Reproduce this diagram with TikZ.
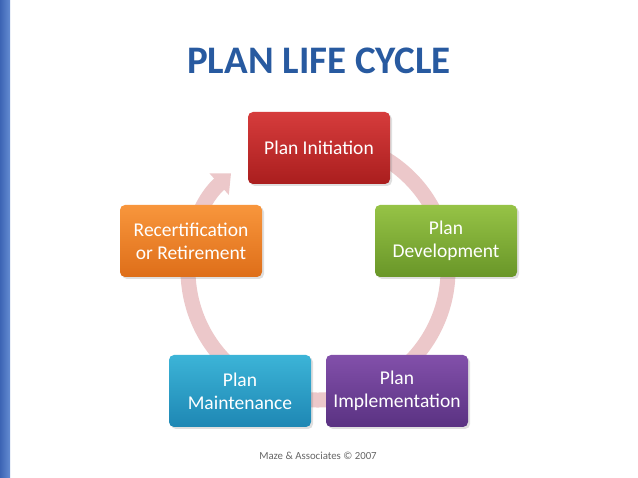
\documentclass[tikz,border=0pt]{standalone}
\usepackage{fontspec}
\setmainfont{Carlito}
\usetikzlibrary{arrows.meta,shadows}
\definecolor{ring}{RGB}{236,200,202}
\definecolor{r1}{RGB}{214,60,60}\definecolor{r2}{RGB}{170,30,30}
\definecolor{g1}{RGB}{150,195,70}\definecolor{g2}{RGB}{105,150,40}
\definecolor{p1}{RGB}{130,80,170}\definecolor{p2}{RGB}{90,50,130}
\definecolor{c1}{RGB}{60,180,215}\definecolor{c2}{RGB}{30,135,180}
\definecolor{o1}{RGB}{248,150,60}\definecolor{o2}{RGB}{222,110,25}
\tikzset{
  box/.style={rounded corners=5pt, minimum width=142pt, minimum height=72pt, align=center,
    text=white, font=\fontsize{19.5}{23}\selectfont, drop shadow={opacity=0.25,shadow xshift=2pt,shadow yshift=-2pt}},
}
\begin{document}
\begin{tikzpicture}[x=1pt,y=1pt]
\useasboundingbox (0,0) rectangle (638,478);
\fill[white] (0,0) rectangle (638,478);
\shade[left color={rgb,255:red,60;green,100;blue,180}, right color={rgb,255:red,100;green,140;blue,210}] (0,0) rectangle (10,478);
\node (title) at (319,417) {\fontsize{39}{45}\selectfont\bfseries\color[RGB]{40,90,160}PLAN LIFE CYCLE};
\draw[ring, line width=15pt, -{Triangle[length=16pt,width=28pt]}] (318,208) ++(100:130) arc[start angle=100, end angle=-228, radius=130] coordinate (tip);
\node[box, top color=r1, bottom color=r2] (a) at (319,330) {Plan Initiation};
\node[box, top color=g1, bottom color=g2] (b) at (446,237) {Plan\\Development};
\node[box, top color=p1, bottom color=p2] (c) at (397,87) {Plan\\Implementation};
\node[box, top color=c1, bottom color=c2] (d) at (240,87) {Plan\\Maintenance};
\node[box, top color=o1, bottom color=o2] (e) at (191,237) {Recertification\\or Retirement};
\node[font=\fontsize{10.8}{12}\selectfont, text=gray!80!black] (foot) at (318,22) {Maze \& Associates © 2007};
\end{tikzpicture}
\end{document}
